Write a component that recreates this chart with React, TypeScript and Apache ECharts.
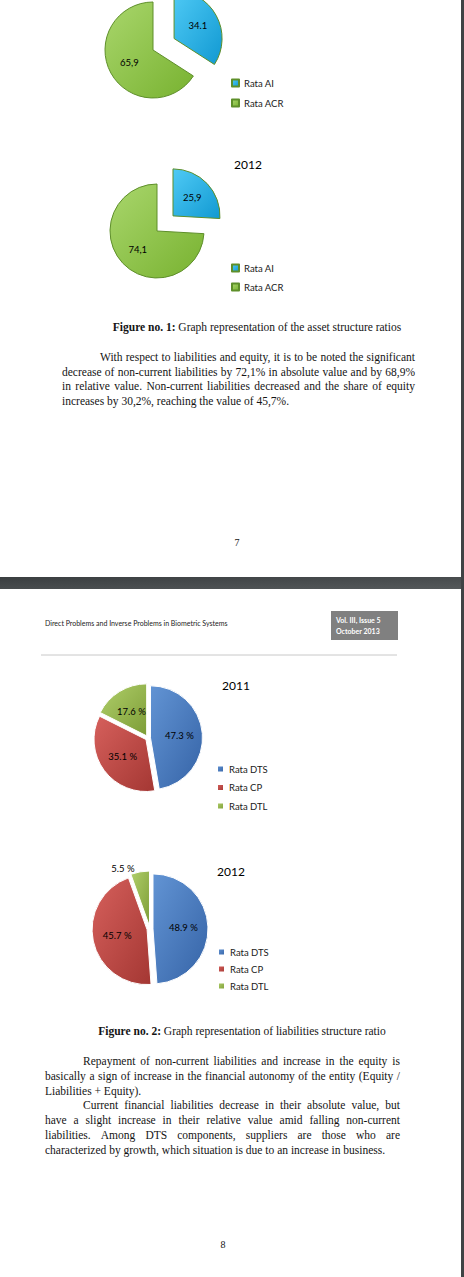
import React, { useEffect, useRef } from 'react';
import * as echarts from 'echarts';

// figure 1 - asset structure
const assetNames = ['Rata AI', 'Rata ACR'];
const asset2011 = [34.1, 65.9];
const asset2012 = [25.9, 74.1];
const asset2011Labels = ['34.1', '65,9'];
const asset2012Labels = ['25,9', '74,1'];

// figure 2 - liabilities structure
const liabilityNames = ['Rata DTS', 'Rata CP', 'Rata DTL'];
const liability2011 = [47.3, 35.1, 17.6];
const liability2012 = [48.9, 45.7, 5.5];

const years = ['2011', '2012'];

const para1 = [
    'With respect to liabilities and equity, it is to be noted the significant',
    'decrease of non-current liabilities by 72,1% in absolute value and by 68,9%',
    'in relative value. Non-current liabilities decreased and the share of equity',
    'increases by 30,2%, reaching the value of 45,7%.',
];
const para2 = [
    'Repayment of non-current liabilities and increase in the equity is',
    'basically a sign of increase in the financial autonomy of the entity (Equity /',
    'Liabilities + Equity).',
    'Current financial liabilities decrease in their absolute value, but',
    'have a slight increase in their relative value amid falling non-current',
    'liabilities. Among DTS components, suppliers are those who are',
    'characterized by growth, which situation is due to an increase in business.',
];

const SERIF = '"Liberation Serif", "Times New Roman", serif';
const SANS = 'Lato, "Open Sans", sans-serif';
const BODY_SIZE = 11.5;

const grad = (a: string, b: string) => ({
    type: 'linear', x: 0, y: 0, x2: 1, y2: 1,
    colorStops: [{ offset: 0, color: a }, { offset: 1, color: b }],
});

const fig1Colors = [grad('#4fcaf5', '#1199d2'), grad('#a9d66c', '#78b230')];
const fig2Colors = [grad('#6294d4', '#3563a6'), grad('#d6605c', '#a43733'), grad('#b0cf6a', '#7d9d37')];

const txt = (text: string, x: number, y: number, extra: any = {}) => ({
    type: 'text', x, y, silent: true,
    style: {
        text, fill: '#141414', fontSize: BODY_SIZE, fontFamily: SERIF,
        verticalAlign: 'middle', textVerticalAlign: 'middle',
        ...extra,
    },
});

// lays out a paragraph line, spreading words for justified lines
const lineWords = (ctx: CanvasRenderingContext2D, line: string, x0: number, x1: number, y: number, justify: boolean) => {
    if (!justify) return [txt(line, x0, y)];
    const words = line.split(' ');
    const widths = words.map(w => ctx.measureText(w).width);
    const total = widths.reduce((a, b) => a + b, 0);
    const gap = (x1 - x0 - total) / (words.length - 1);
    let x = x0;
    return words.map((w, i) => {
        const el = txt(w, x, y);
        x += widths[i] + gap;
        return el;
    });
};

const pie = (center: number[], radius: number, values: number[], names: string[], colors: any[],
             selected: number[], offset: number, formatter: any, border: string) => ({
    type: 'pie',
    center,
    radius,
    startAngle: 90,
    clockwise: true,
    selectedMode: 'multiple',
    selectedOffset: offset,
    avoidLabelOverlap: false,
    silent: true,
    label: {
        show: true, position: 'inside', color: '#000', fontFamily: SANS, fontSize: 9.5,
        textBorderWidth: 0, backgroundColor: 'transparent', formatter,
    },
    labelLine: { show: false },
    data: values.map((v, i) => ({
        value: v,
        name: names[i],
        selected: selected.includes(i),
        itemStyle: { color: colors[i], borderColor: border, borderWidth: 1 },
    })),
});

const legendAt = (names: string[], left: number, top: number, gap: number) => ({
    data: names,
    left, top,
    orient: 'vertical',
    icon: 'rect',
    itemWidth: 7,
    itemHeight: 7,
    itemGap: gap,
    padding: 0,
    selectedMode: false,
    textStyle: { fontFamily: SANS, fontSize: 9.5, color: '#1a1a1a', lineHeight: 10 },
});

const yearTitle = (text: string, left: number, top: number) => ({
    text, left, top, padding: 0,
    textStyle: { fontFamily: SANS, fontSize: 12, fontWeight: 'normal', color: '#000' },
});

const App: React.FC = () => {
    const chartRef = useRef<HTMLDivElement>(null);

    useEffect(() => {
        const chartDom = chartRef.current!;
        const myChart = echarts.init(chartDom, null, { renderer: 'svg' });

        const ctx = document.createElement('canvas').getContext('2d')!;
        ctx.font = BODY_SIZE + 'px "Liberation Serif"';

        const p1Lines = [
            { x0: 100, just: true },
            { x0: 62, just: true },
            { x0: 62, just: true },
            { x0: 62, just: false },
        ];
        const p2Lines = [
            { x0: 83, just: true },
            { x0: 45, just: true },
            { x0: 45, just: false },
            { x0: 83, just: true },
            { x0: 45, just: true },
            { x0: 45, just: true },
            { x0: 45, just: false },
        ];

        const textEls: any[] = [];
        para1.forEach((l, i) => textEls.push(...lineWords(ctx, l, p1Lines[i].x0, 415, 357 + i * 14.5, p1Lines[i].just)));
        para2.forEach((l, i) => textEls.push(...lineWords(ctx, l, p2Lines[i].x0, 400, 1061 + i * 14.8, p2Lines[i].just)));

        const liability2012Data = pie([150, 929], 55, liability2012, liabilityNames, fig2Colors, [0, 1, 2], 3, '{c} %', '#ffffff');
        (liability2012Data.data[2] as any).label = { position: 'outside' };
        (liability2012Data.data[2] as any).labelLine = { show: false, length: 3, length2: 0 };

        const captionRich = { b: { fontWeight: 'bold', fontSize: BODY_SIZE, fontFamily: SERIF, fill: '#141414' } };

        const option: any = {
            animation: false,
            backgroundColor: '#ffffff',
            title: [
                yearTitle(years[1], 234, 158),
                yearTitle(years[0], 222, 679),
                yearTitle(years[1], 217, 865),
            ],
            legend: [
                legendAt(assetNames, 231, 78, 10),
                legendAt(assetNames, 231, 263, 9),
                legendAt(liabilityNames, 216, 764, 8.5),
                legendAt(liabilityNames, 217, 947, 7),
            ],
            series: [
                pie([153, 50], 48, asset2011, assetNames, fig1Colors, [0], 24,
                    (p: any) => asset2011Labels[p.dataIndex], '#5e8f2a'),
                pie([157, 231], 47, asset2012, assetNames, fig1Colors, [0], 22,
                    (p: any) => asset2012Labels[p.dataIndex], '#5e8f2a'),
                pie([148, 738], 52, liability2011, liabilityNames, fig2Colors, [0, 1, 2], 2.5, '{c} %', '#ffffff'),
                liability2012Data,
            ],
            graphic: {
                elements: [
                    // page break band and right edge
                    {
                        type: 'rect', silent: true,
                        shape: { x: 0, y: 577, width: 464, height: 12 },
                        style: { fill: grad('#3a3e40', '#55595b') },
                    },
                    {
                        type: 'rect', silent: true,
                        shape: { x: 461, y: 0, width: 3, height: 1277 },
                        style: { fill: '#3f4345' },
                    },
                    // captions
                    txt('{b|Figure no. 1:} Graph representation of the asset structure ratios', 257, 327, {
                        align: 'center', textAlign: 'center', rich: captionRich,
                    }),
                    txt('{b|Figure no. 2:} Graph representation of liabilities structure ratio', 242, 1031, {
                        align: 'center', textAlign: 'center', rich: captionRich,
                    }),
                    ...textEls,
                    // page numbers
                    txt('7', 237, 542, { align: 'center', textAlign: 'center', fontSize: 10 }),
                    txt('8', 223, 1244, { align: 'center', textAlign: 'center', fontSize: 10 }),
                    // running header of page 8
                    txt('Direct Problems and Inverse Problems in Biometric Systems', 45, 623, {
                        fontFamily: SANS, fontSize: 7, fill: '#222',
                    }),
                    {
                        type: 'rect', silent: true,
                        shape: { x: 331, y: 611, width: 67, height: 29 },
                        style: { fill: '#808080' },
                    },
                    txt('Vol. III, Issue 5', 336, 620, { fontFamily: SANS, fontSize: 7, fontWeight: 'bold', fill: '#ffffff' }),
                    txt('October 2013', 336, 631, { fontFamily: SANS, fontSize: 7, fontWeight: 'bold', fill: '#ffffff' }),
                    {
                        type: 'line', silent: true,
                        shape: { x1: 41, y1: 655, x2: 397, y2: 655 },
                        style: { stroke: '#c8c8c8', lineWidth: 1 },
                    },
                ],
            },
        };

        myChart.setOption(option);

        return () => {
            myChart.dispose();
        };
    }, []);

    return (
        <div
            ref={chartRef}
            style={{ position: 'absolute', left: 0, top: 0, width: 464, height: 1277, background: '#fff' }}
        />
    );
};

export default App;
